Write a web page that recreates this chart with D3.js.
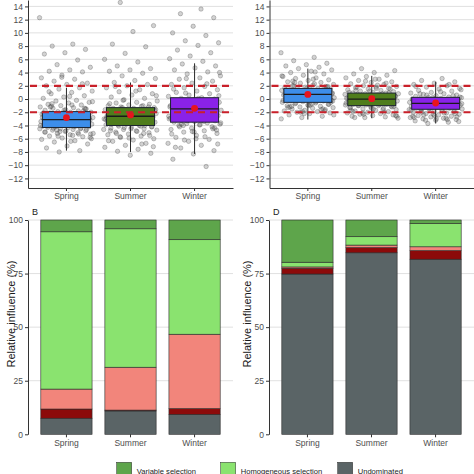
<!DOCTYPE html>
<html>
<head>
<meta charset="utf-8">
<script src="https://cdn.jsdelivr.net/npm/d3@7"></script>
<style>
  body { margin: 0; background: #fff; }
  svg { display: block; font-family: "Liberation Sans", Arial, sans-serif; }
  .axis text { fill: #4d4d4d; font-size: 8.5px; }
  .axis line, .axis path { stroke: #333; }
</style>
</head>
<body>
<div id="chart"></div>
<script>
let seasons = ["Spring", "Summer", "Winter"];

// box stats: [lower whisker, q1, median, q3, upper whisker]
let boxLeft = [[-7.8, -4.3, -3.1, -1.9, 1.7], [-8.0, -4.0, -2.6, -1.3, 2.5], [-8.3, -3.5, -1.5, 0.2, 5.4]];
let meanLeft = [-2.8, -2.4, -1.4];
let boxRight = [[-3.1, -0.5, 0.7, 1.6, 4.6], [-2.9, -1.0, 0.0, 0.9, 3.5], [-3.7, -1.55, -0.65, 0.25, 2.6]];
let meanRight = [0.7, 0.05, -0.6];
let boxColors = ["#3d8eea", "#4f7d1c", "#8a22e8"];

// raw observations (read off the cloud, approximate)
let springLeft = [12.3, 8.3, 8.0, 7.5, 7.0, 6.8, 5.9, 5.2, 4.8, 4.4, 4.2, 4.1, 3.6, 3.2, 3.0, 2.7, 2.4, 2.2, 2.0, 1.7, 1.5, 1.2, 1.0, 0.8, 0.5, 0.3, 0.1, -0.2, -0.3, -0.5, -0.6, -0.8, -0.9, -1.0, -1.2, -1.3, -1.4, -1.5, -1.6, -1.7, -1.8, -1.9,
  -2.0, -2.0, -2.1, -2.2, -2.2, -2.3, -2.4, -2.4, -2.5, -2.5, -2.6, -2.7, -2.7, -2.8, -2.8, -2.9, -2.9, -3.0, -3.0, -3.1, -3.1,
  -3.2, -3.2, -3.3, -3.3, -3.4, -3.4, -3.5, -3.5, -3.6, -3.6, -3.7, -3.7, -3.8, -3.8, -3.9, -3.9, -4.0, -4.0, -4.1, -4.1, -4.2, -4.2, -4.3, -4.3,
  -4.4, -4.5, -4.5, -4.6, -4.7, -4.8, -4.9, -5.0, -5.1, -5.2, -5.3, -5.4, -5.6, -5.7, -5.9, -6.1, -6.3, -6.5, -6.8, -7.1, -7.4, -7.8, -8.0,
  -0.4, -0.9, -1.1, -1.4, -1.7, -2.1, -2.3, -2.6, -2.9, -3.2, -3.4, -3.6, -3.8, -4.0, -4.2, -4.4, -4.6, -4.8, -5.0, -5.3, -5.6, -6.0, -6.4,
  -1.2, -1.8, -2.4, -2.8, -3.0, -3.3, -3.7, -3.9, -4.1, -4.5, -4.9, -5.2, -5.5, -0.7, -1.5, -2.0, -2.5, -3.5, -4.7, -5.8, 0.4, 1.1, 2.3, 3.3];
let summerLeft = [14.6, 11.1, 10.2, 8.3, 7.9, 6.9, 6.0, 5.6, 5.0, 4.6, 4.4, 4.2, 3.9, 3.5, 3.1, 2.8, 2.5, 2.2, 2.0, 1.7, 1.4, 1.1, 0.8, 0.6, 0.3, 0.1, -0.1, -0.3, -0.5, -0.6, -0.8, -0.9, -1.0, -1.1, -1.2, -1.3,
  -1.4, -1.4, -1.5, -1.6, -1.6, -1.7, -1.8, -1.8, -1.9, -2.0, -2.0, -2.1, -2.2, -2.2, -2.3, -2.4, -2.4, -2.5, -2.5, -2.6,
  -2.7, -2.7, -2.8, -2.9, -2.9, -3.0, -3.1, -3.1, -3.2, -3.3, -3.3, -3.4, -3.5, -3.5, -3.6, -3.7, -3.7, -3.8, -3.9, -4.0,
  -4.1, -4.2, -4.3, -4.4, -4.5, -4.6, -4.7, -4.8, -5.0, -5.1, -5.3, -5.4, -5.6, -5.8, -6.0, -6.2, -6.4, -6.7, -7.0, -7.3, -7.6, -7.9, -8.2, -8.5,
  -0.7, -1.0, -1.3, -1.6, -1.9, -2.1, -2.3, -2.6, -2.8, -3.0, -3.2, -3.4, -3.6, -3.8, -4.0, -4.3, -4.6, -4.9, -5.2, -5.5, -5.9, -6.3, -6.8,
  -1.5, -1.7, -2.0, -2.4, -2.7, -2.9, -3.1, -3.5, -3.9, -4.2, -4.5, -4.8, -5.2, -0.2, 0.5, 1.2, 1.9, -1.2, -2.2, -3.3, -4.1, -5.7, -7.2];
let winterLeft = [13.6, 12.9, 12.3, 11.0, 10.0, 9.6, 8.8, 8.5, 8.1, 7.4, 7.0, 6.5, 6.1, 5.7, 5.3, 5.0, 4.7, 4.4, 4.1, 3.8, 3.5, 3.2, 3.0, 2.7, 2.4, 2.2, 1.9, 1.7, 1.4, 1.2, 1.0, 0.8, 0.6, 0.4, 0.2,
  0.1, 0.0, -0.1, -0.2, -0.3, -0.4, -0.5, -0.6, -0.7, -0.8, -0.9, -1.0, -1.0, -1.1, -1.2, -1.3, -1.4, -1.5,
  -1.6, -1.7, -1.8, -1.9, -2.0, -2.1, -2.2, -2.3, -2.4, -2.5, -2.6, -2.7, -2.8, -2.9, -3.0, -3.1, -3.2, -3.3, -3.4, -3.5,
  -3.6, -3.7, -3.8, -3.9, -4.0, -4.2, -4.4, -4.6, -4.8, -5.0, -5.2, -5.5, -5.8, -6.1, -6.4, -6.7, -7.0, -7.4, -7.8, -8.3, -9.1, -10.2,
  0.9, 0.5, 0.1, -0.3, -0.6, -0.9, -1.2, -1.5, -1.8, -2.1, -2.4, -2.7, -3.0, -3.3, -3.6, -3.9, -4.2, -4.5, -4.9, -5.3, -5.7, -6.2, -6.8,
  -0.1, -0.8, -1.4, -2.0, -2.6, -3.2, -3.8, -4.4, -5.0, 1.5, 2.3, 3.1, 4.0, -0.5, -1.1, -1.7, -2.3, -2.9, -3.4, -4.0, -4.7, -6.0, -7.3];
let springRight = [7.0, 6.3, 5.8, 5.4, 5.2, 5.0, 4.8, 4.6, 4.4, 4.2, 4.0, 3.8, 3.6, 3.4, 3.2, 3.1, 2.9, 2.8, 2.6, 2.5, 2.4, 2.2, 2.1, 2.0, 1.9, 1.8, 1.7, 1.6,
  1.6, 1.5, 1.5, 1.4, 1.4, 1.3, 1.3, 1.2, 1.2, 1.1, 1.1, 1.0, 1.0, 0.9, 0.9, 0.8, 0.8, 0.7, 0.7,
  0.6, 0.6, 0.5, 0.5, 0.4, 0.4, 0.3, 0.3, 0.2, 0.2, 0.1, 0.1, 0.0, 0.0, -0.1, -0.1, -0.2, -0.2, -0.3, -0.3, -0.4, -0.5,
  -0.6, -0.7, -0.8, -0.9, -1.0, -1.1, -1.2, -1.3, -1.4, -1.5, -1.6, -1.7, -1.8, -1.9, -2.0, -2.1, -2.2, -2.4, -2.6, -2.8, -3.0,
  2.3, 2.0, 1.8, 1.6, 1.4, 1.2, 1.0, 0.8, 0.6, 0.4, 0.2, 0.0, -0.2, -0.4, -0.6, -0.8, -1.0, -1.3, -1.6, -2.0, -2.4,
  3.0, 2.7, 1.5, 1.1, 0.7, 0.3, -0.1, -0.5, -0.9, -1.2, -1.5, -1.9, 3.5, 4.1, 2.5, 1.9, 1.3, 0.9, 0.5, 0.1, -0.3, -0.7, -1.1, -1.8, -2.2];
let summerRight = [4.6, 4.3, 4.0, 3.8, 3.6, 3.4, 3.2, 3.0, 2.8, 2.6, 2.5, 2.3, 2.2, 2.0, 1.9, 1.8, 1.7, 1.6, 1.5, 1.4, 1.3, 1.2, 1.1, 1.0, 0.9,
  0.9, 0.8, 0.8, 0.7, 0.7, 0.6, 0.6, 0.5, 0.5, 0.4, 0.4, 0.3, 0.3, 0.2, 0.2, 0.1, 0.1, 0.0, 0.0,
  -0.1, -0.1, -0.2, -0.2, -0.3, -0.3, -0.4, -0.4, -0.5, -0.5, -0.6, -0.6, -0.7, -0.7, -0.8, -0.8, -0.9, -0.9, -1.0, -1.0,
  -1.1, -1.2, -1.3, -1.4, -1.5, -1.6, -1.7, -1.8, -1.9, -2.0, -2.1, -2.2, -2.3, -2.4, -2.5, -2.6, -2.7, -2.8, -2.9,
  2.1, 1.8, 1.5, 1.2, 1.0, 0.8, 0.6, 0.4, 0.2, 0.0, -0.2, -0.4, -0.6, -0.8, -1.0, -1.2, -1.4, -1.7, -2.0, -2.3, -2.6,
  1.6, 1.3, 0.9, 0.5, 0.1, -0.3, -0.7, -1.1, -1.5, -1.9, 2.4, 2.7, 0.7, 0.3, -0.1, -0.5, -0.9, -1.3, -1.6, -2.1, -2.5, 3.0, -2.8];
let winterRight = [3.1, 2.8, 2.6, 2.4, 2.2, 2.0, 1.8, 1.6, 1.5, 1.3, 1.2, 1.0, 0.9, 0.8, 0.7, 0.6, 0.5, 0.4, 0.3, 0.25,
  0.2, 0.1, 0.1, 0.0, 0.0, -0.1, -0.1, -0.2, -0.2, -0.3, -0.3, -0.4, -0.4, -0.5, -0.5, -0.6, -0.6,
  -0.7, -0.7, -0.8, -0.8, -0.9, -0.9, -1.0, -1.0, -1.1, -1.1, -1.2, -1.2, -1.3, -1.3, -1.4, -1.4, -1.5, -1.5,
  -1.6, -1.7, -1.8, -1.9, -2.0, -2.1, -2.2, -2.3, -2.4, -2.5, -2.6, -2.7, -2.8, -2.9, -3.0, -3.1, -3.2, -3.3, -3.5, -3.7,
  1.4, 1.1, 0.8, 0.5, 0.2, 0.0, -0.2, -0.4, -0.6, -0.8, -1.0, -1.2, -1.4, -1.6, -1.8, -2.0, -2.2, -2.5, -2.8, -3.1,
  0.6, 0.3, -0.1, -0.5, -0.9, -1.3, -1.7, -2.1, -2.4, -2.7, -3.0, 1.9, 2.2, -0.3, -0.7, -1.1, -1.5, -1.9, -2.3, -2.6, -2.9, -3.2, -3.4];

let yTicksTop = d3.range(-12, 15, 2);
let thresholds = [2, -2];

// stacked bars (%), bottom to top
let processes = ["Undominated", "Homogenizing dispersal", "Dispersal limitation", "Homogeneous selection", "Variable selection"];
let processColors = ["#5a6466", "#8c0a0a", "#f2857b", "#8ae36f", "#5ea54b"];
let undominatedB = [7.5, 10.9, 9.3];
let homDispersalB = [4.3, 0.4, 2.7];
let dispLimitB = [9.3, 20.0, 34.7];
let homSelectionB = [73.4, 64.6, 44.1];
let varSelectionB = [5.5, 4.1, 9.2];
let undominatedD = [74.8, 84.7, 81.7];
let homDispersalD = [2.7, 2.4, 4.0];
let dispLimitD = [0.6, 1.2, 1.8];
let homSelectionD = [2.2, 3.9, 10.8];
let varSelectionD = [19.7, 7.8, 1.7];
let yTicksBottom = [0, 25, 50, 75, 100];
let legendItems = ["Variable selection", "Homogeneous selection", "Undominated"];

let svg = d3.select("#chart").append("svg").attr("width", 474).attr("height", 474);

let yTop = d3.scaleLinear().domain([-13.45, 14.97]).range([188, 0]);
let yBot = d3.scaleLinear().domain([0, 100]).range([434.3, 220]);

function boxPanel(x0, x1, boxes, means, clouds) {
    let x = d3.scaleBand().domain(seasons).range([x0, x1]).paddingInner(0.25).paddingOuter(0.225);
    let bw = x.bandwidth();
    let step = x.step();
    let g = svg.append("g");

    g.append("g").selectAll("line").data(yTicksTop).join("line")
        .attr("x1", x0).attr("x2", x1)
        .attr("y1", d => yTop(d)).attr("y2", d => yTop(d))
        .attr("stroke", "#dcdcdc").attr("stroke-width", 0.9);

    // jittered points
    seasons.forEach((s, k) => {
        let cx = x(s) + bw / 2;
        g.append("g").selectAll("circle").data(clouds[k]).join("circle")
            .attr("cx", (d, i) => cx + (((i * 0.618034 + k * 0.31) % 1) - 0.5) * 0.84 * step)
            .attr("cy", d => yTop(d))
            .attr("r", 2.2)
            .attr("fill", "#6a6a6a").attr("fill-opacity", 0.3)
            .attr("stroke", "#151515").attr("stroke-opacity", 0.45).attr("stroke-width", 0.5);
    });

    let bx = g.append("g").selectAll("g").data(boxes).join("g");
    bx.append("line")
        .attr("x1", (d, i) => x(seasons[i]) + bw / 2).attr("x2", (d, i) => x(seasons[i]) + bw / 2)
        .attr("y1", d => yTop(d[0])).attr("y2", d => yTop(d[4]))
        .attr("stroke", "#2b2b2b").attr("stroke-width", 1);
    bx.append("rect")
        .attr("x", (d, i) => x(seasons[i])).attr("width", bw)
        .attr("y", d => yTop(d[3])).attr("height", d => yTop(d[1]) - yTop(d[3]))
        .attr("fill", (d, i) => boxColors[i])
        .attr("stroke", "#1d2430").attr("stroke-width", 1);
    bx.append("line")
        .attr("x1", (d, i) => x(seasons[i])).attr("x2", (d, i) => x(seasons[i]) + bw)
        .attr("y1", d => yTop(d[2])).attr("y2", d => yTop(d[2]))
        .attr("stroke", "#1a1a1a").attr("stroke-width", 1.3);

    g.append("g").selectAll("circle").data(means).join("circle")
        .attr("cx", (d, i) => x(seasons[i]) + bw / 2)
        .attr("cy", d => yTop(d))
        .attr("r", 3.4).attr("fill", "#e8141c");

    g.append("g").selectAll("line").data(thresholds).join("line")
        .attr("x1", x0 + 2).attr("x2", x1)
        .attr("y1", d => yTop(d)).attr("y2", d => yTop(d))
        .attr("stroke", "#c9202a").attr("stroke-width", 2.2)
        .attr("stroke-dasharray", "7,5");

    g.append("g").attr("class", "axis")
        .attr("transform", `translate(${x0},0)`)
        .call(d3.axisLeft(yTop).tickValues(yTicksTop).tickSize(3).tickPadding(2).tickSizeOuter(0));
    g.append("g").attr("class", "axis")
        .attr("transform", "translate(0,188)")
        .call(d3.axisBottom(x).tickSize(3).tickPadding(2).tickSizeOuter(0));
}

function barPanel(x0, x1, label, titleX, series) {
    let x = d3.scaleBand().domain(seasons).range([x0, x1]).paddingInner(0.2).paddingOuter(0.2);
    let g = svg.append("g");

    g.append("g").selectAll("line").data(yTicksBottom.slice(1)).join("line")
        .attr("x1", x0).attr("x2", x1)
        .attr("y1", d => yBot(d)).attr("y2", d => yBot(d))
        .attr("stroke", "#dcdcdc").attr("stroke-width", 0.9);

    let rows = seasons.map((s, i) => {
        let r = {season: s};
        processes.forEach((p, j) => r[p] = series[j][i]);
        return r;
    });
    let stacked = d3.stack().keys(processes)(rows);

    g.append("g").selectAll("g").data(stacked).join("g")
        .attr("fill", (d, i) => processColors[i])
        .selectAll("rect").data(d => d).join("rect")
        .attr("x", d => x(d.data.season))
        .attr("width", x.bandwidth())
        .attr("y", d => yBot(d[1]))
        .attr("height", d => yBot(d[0]) - yBot(d[1]))
        .attr("stroke", "#2a2a2a").attr("stroke-width", 0.6);

    g.append("g").attr("class", "axis")
        .attr("transform", `translate(${x0},0)`)
        .call(d3.axisLeft(yBot).tickValues(yTicksBottom).tickSize(3).tickPadding(2).tickSizeOuter(0));
    g.append("g").attr("class", "axis")
        .attr("transform", "translate(0,434.3)")
        .call(d3.axisBottom(x).tickSize(3).tickPadding(3).tickSizeOuter(0))
        .call(a => a.select(".domain").remove());

    g.append("text").attr("x", x0 + 4).attr("y", 215)
        .attr("font-size", 9).attr("fill", "#1a1a1a").text(label);

    g.append("text")
        .attr("transform", `translate(${titleX},314) rotate(-90)`)
        .attr("text-anchor", "middle").attr("dominant-baseline", "middle")
        .attr("font-size", 11).attr("fill", "#1a1a1a")
        .text("Relative influence (%)");
}

boxPanel(28, 233, boxLeft, meanLeft, [springLeft, summerLeft, winterLeft]);
boxPanel(269.5, 474, boxRight, meanRight, [springRight, summerRight, winterRight]);
barPanel(28, 233, "B", 12, [undominatedB, homDispersalB, dispLimitB, homSelectionB, varSelectionB]);
barPanel(269, 474, "D", 248.5, [undominatedD, homDispersalD, dispLimitD, homSelectionD, varSelectionD]);

// legend (only first row is visible in the crop)
let legendX = [116.7, 220.7, 337.7];
let legendColor = ["#5ea54b", "#8ae36f", "#5a6466"];
let legend = svg.append("g");
legend.selectAll("rect").data(legendItems).join("rect")
    .attr("x", (d, i) => legendX[i]).attr("y", 462.3)
    .attr("width", 15).attr("height", 15)
    .attr("fill", (d, i) => legendColor[i])
    .attr("stroke", "#2a2a2a").attr("stroke-width", 0.5);
legend.selectAll("text").data(legendItems).join("text")
    .attr("x", (d, i) => legendX[i] + 20).attr("y", 471.5)
    .attr("dominant-baseline", "middle")
    .attr("font-size", 7.6).attr("fill", "#1a1a1a")
    .text(d => d);
</script>
</body>
</html>
